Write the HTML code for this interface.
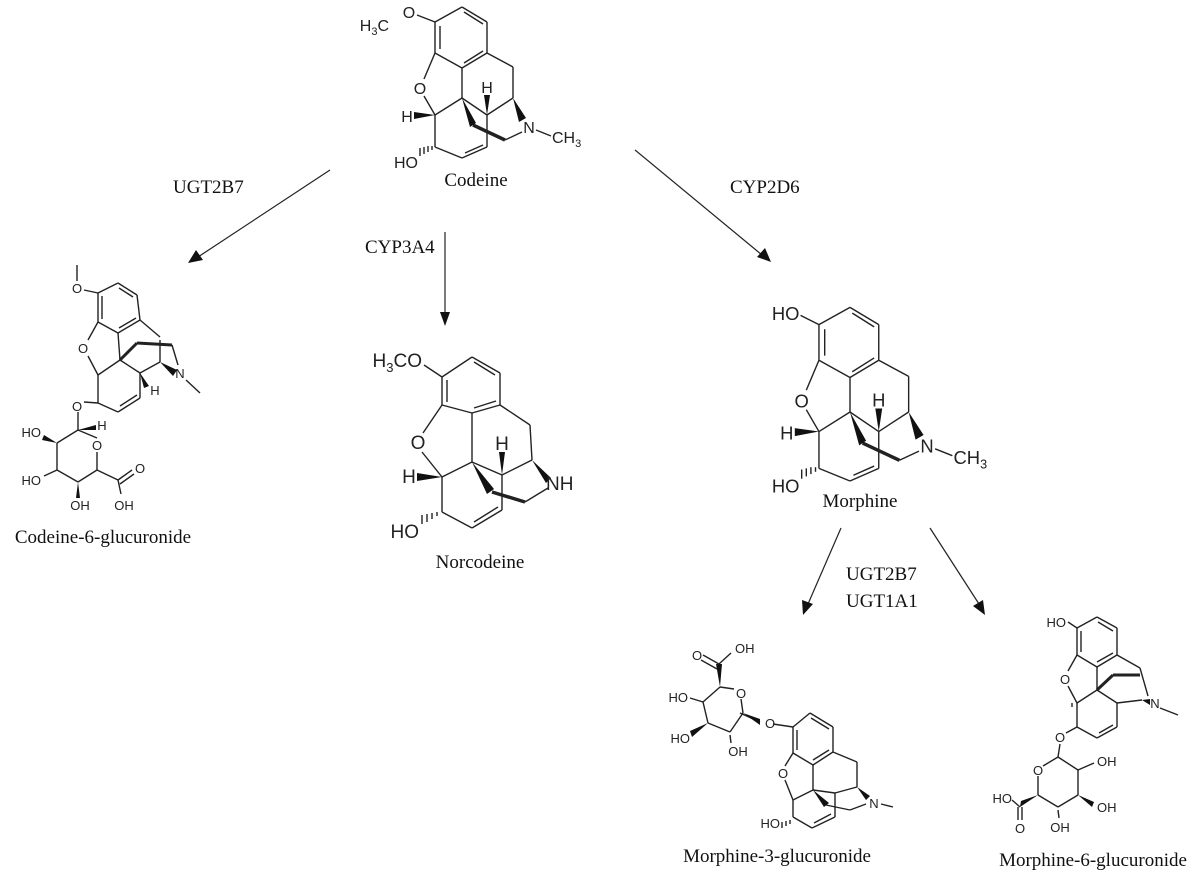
<!DOCTYPE html>
<html><head><meta charset="utf-8"><style>
html,body{margin:0;padding:0;background:#fff;}
svg{display:block}
.b line,.b polyline{stroke:#222;stroke-width:1.4;fill:none;vector-effect:non-scaling-stroke}
.b polygon{fill:#111;stroke:none}
.a{font-family:"Liberation Sans",sans-serif;fill:#222}
.cap{font-family:"Liberation Serif",serif;font-size:19px;fill:#111}
.ar line{stroke:#222;stroke-width:1.2}
.ar polygon{fill:#111}
</style></head><body>
<svg width="1200" height="872" viewBox="0 0 1200 872" xmlns="http://www.w3.org/2000/svg">

<!-- ================= CODEINE ================= -->
<g class="b" transform="translate(462,98)">
<line x1="-27" y1="-76" x2="0" y2="-91"/><line x1="0" y1="-91" x2="25" y2="-76"/>
<line x1="25" y1="-76" x2="25" y2="-45"/><line x1="25" y1="-45" x2="0" y2="-30"/>
<line x1="0" y1="-30" x2="-27" y2="-45"/><line x1="-27" y1="-45" x2="-27" y2="-76"/>
<line x1="-22" y1="-72" x2="-22" y2="-49"/><line x1="2" y1="-86" x2="21" y2="-74"/>
<line x1="21" y1="-47" x2="2" y2="-35"/>
<line x1="-27" y1="-76" x2="-45" y2="-83"/>
<line x1="-27" y1="-45" x2="-38" y2="-19"/><line x1="-38" y1="-2" x2="-27" y2="17"/>
<line x1="0" y1="-30" x2="0" y2="0"/><line x1="-27" y1="17" x2="0" y2="0"/>
<line x1="-27" y1="17" x2="-27" y2="49"/><line x1="-27" y1="49" x2="0" y2="60"/>
<line x1="0" y1="60" x2="25" y2="49"/><line x1="3" y1="55" x2="21" y2="47"/>
<line x1="25" y1="49" x2="25" y2="17"/><line x1="25" y1="17" x2="0" y2="0"/>
<line x1="25" y1="17" x2="51" y2="0"/><line x1="51" y1="0" x2="51" y2="-31"/>
<line x1="51" y1="-31" x2="25" y2="-45"/>
<line x1="60" y1="34" x2="43" y2="42"/><line x1="74" y1="32" x2="89" y2="38"/>
<line x1="43" y1="42" x2="11" y2="27" style="stroke-width:3.5"/>
<polygon points="-27,17 -48,14 -48,21"/>
<polygon points="25,17 22,-3 28,-3"/>
<polygon points="51,0 57,24 64,20"/>
<polygon points="0,0 8,29 14,25"/>
<line x1="-30" y1="48" x2="-30" y2="52"/><line x1="-34" y1="48" x2="-34" y2="54"/><line x1="-38" y1="49" x2="-38" y2="56"/><line x1="-42" y1="50" x2="-42" y2="58"/>
<text class="a" font-size="16" x="-73" y="-67" text-anchor="end">H<tspan font-size="11" dy="4">3</tspan><tspan dy="-4">C</tspan></text>
<text class="a" font-size="16" x="-53" y="-80" text-anchor="middle">O</text>
<text class="a" font-size="16" x="-42" y="-4" text-anchor="middle">O</text>
<text class="a" font-size="16" x="-55" y="24" text-anchor="middle">H</text>
<text class="a" font-size="16" x="-44" y="70" text-anchor="end">HO</text>
<text class="a" font-size="16" x="25" y="-5" text-anchor="middle">H</text>
<text class="a" font-size="16" x="67" y="35" text-anchor="middle">N</text>
<text class="a" font-size="16" x="90" y="45">CH<tspan font-size="11" dy="4">3</tspan></text>
</g>
<text class="cap" x="476" y="186" text-anchor="middle">Codeine</text>

<!-- ================= MORPHINE ================= -->
<g class="b" transform="translate(850,412) scale(1.15)">
<line x1="-27" y1="-76" x2="0" y2="-91"/><line x1="0" y1="-91" x2="25" y2="-76"/>
<line x1="25" y1="-76" x2="25" y2="-45"/><line x1="25" y1="-45" x2="0" y2="-30"/>
<line x1="0" y1="-30" x2="-27" y2="-45"/><line x1="-27" y1="-45" x2="-27" y2="-76"/>
<line x1="-22" y1="-72" x2="-22" y2="-49"/><line x1="2" y1="-86" x2="21" y2="-74"/>
<line x1="21" y1="-47" x2="2" y2="-35"/>
<line x1="-27" y1="-76" x2="-43" y2="-84"/>
<line x1="-27" y1="-45" x2="-38" y2="-19"/><line x1="-38" y1="-2" x2="-27" y2="17"/>
<line x1="0" y1="-30" x2="0" y2="0"/><line x1="-27" y1="17" x2="0" y2="0"/>
<line x1="-27" y1="17" x2="-27" y2="49"/><line x1="-27" y1="49" x2="0" y2="60"/>
<line x1="0" y1="60" x2="25" y2="49"/><line x1="3" y1="55" x2="21" y2="47"/>
<line x1="25" y1="49" x2="25" y2="17"/><line x1="25" y1="17" x2="0" y2="0"/>
<line x1="25" y1="17" x2="51" y2="0"/><line x1="51" y1="0" x2="51" y2="-31"/>
<line x1="51" y1="-31" x2="25" y2="-45"/>
<line x1="60" y1="34" x2="43" y2="42"/><line x1="74" y1="32" x2="89" y2="38"/>
<line x1="43" y1="42" x2="11" y2="27" style="stroke-width:3.5"/>
<polygon points="-27,17 -48,14 -48,21"/>
<polygon points="25,17 22,-3 28,-3"/>
<polygon points="51,0 57,24 64,20"/>
<polygon points="0,0 8,29 14,25"/>
<line x1="-30" y1="48" x2="-30" y2="52"/><line x1="-34" y1="48" x2="-34" y2="54"/><line x1="-38" y1="49" x2="-38" y2="56"/><line x1="-42" y1="50" x2="-42" y2="58"/>
<text class="a" font-size="16" x="-44" y="-80" text-anchor="end">HO</text>
<text class="a" font-size="16" x="-42" y="-4" text-anchor="middle">O</text>
<text class="a" font-size="16" x="-55" y="24" text-anchor="middle">H</text>
<text class="a" font-size="16" x="-44" y="70" text-anchor="end">HO</text>
<text class="a" font-size="16" x="25" y="-5" text-anchor="middle">H</text>
<text class="a" font-size="16" x="67" y="35" text-anchor="middle">N</text>
<text class="a" font-size="16" x="90" y="45">CH<tspan font-size="11" dy="4">3</tspan></text>
</g>
<text class="cap" x="860" y="507" text-anchor="middle">Morphine</text>

<!-- ================= NORCODEINE ================= -->
<g class="b">
<line x1="442" y1="377" x2="472" y2="357"/><line x1="472" y1="357" x2="500" y2="373"/>
<line x1="500" y1="373" x2="500" y2="405"/><line x1="500" y1="405" x2="472" y2="413"/>
<line x1="472" y1="413" x2="442" y2="405"/><line x1="442" y1="405" x2="442" y2="377"/>
<line x1="447" y1="380" x2="447" y2="402"/><line x1="474" y1="362" x2="495" y2="375"/>
<line x1="496" y1="401" x2="474" y2="408"/>
<line x1="442" y1="377" x2="424" y2="365"/>
<line x1="442" y1="405" x2="423" y2="433"/><line x1="422" y1="452" x2="442" y2="477"/>
<line x1="472" y1="413" x2="472" y2="462"/><line x1="442" y1="477" x2="472" y2="462"/>
<line x1="442" y1="477" x2="442" y2="512"/><line x1="442" y1="512" x2="472" y2="528"/>
<line x1="472" y1="528" x2="502" y2="510"/><line x1="474" y1="522" x2="498" y2="507"/>
<line x1="502" y1="510" x2="502" y2="475"/><line x1="502" y1="475" x2="472" y2="462"/>
<line x1="502" y1="475" x2="532" y2="460"/><line x1="532" y1="460" x2="530" y2="425"/>
<line x1="530" y1="425" x2="500" y2="405"/>
<line x1="548" y1="488" x2="525" y2="502"/>
<line x1="525" y1="502" x2="492" y2="492" style="stroke-width:3.5"/>
<polygon points="442,477 417,473 417,481"/>
<polygon points="502,475 499,452 505,452"/>
<polygon points="532,460 546,483 551,478"/>
<polygon points="472,462 487,494 494,489"/>
<line x1="437" y1="512" x2="437" y2="516"/><line x1="432" y1="513" x2="432" y2="519"/><line x1="427" y1="514" x2="427" y2="522"/><line x1="422" y1="515" x2="422" y2="524"/>
<text class="a" font-size="19" x="422" y="367" text-anchor="end">H<tspan font-size="13" dy="5">3</tspan><tspan dy="-5">CO</tspan></text>
<text class="a" font-size="19" x="418" y="449" text-anchor="middle">O</text>
<text class="a" font-size="19" x="409" y="483" text-anchor="middle">H</text>
<text class="a" font-size="19" x="419" y="538" text-anchor="end">HO</text>
<text class="a" font-size="19" x="502" y="450" text-anchor="middle">H</text>
<text class="a" font-size="19" x="546" y="490">NH</text>
</g>
<text class="cap" x="480" y="568" text-anchor="middle">Norcodeine</text>

<!-- ================= CODEINE-6-GLUCURONIDE ================= -->
<g class="b">
<line x1="77" y1="265" x2="77" y2="281"/>
<line x1="98" y1="293" x2="118" y2="283"/><line x1="118" y1="283" x2="137" y2="295"/>
<line x1="137" y1="295" x2="140" y2="320"/><line x1="140" y1="320" x2="118" y2="333"/>
<line x1="118" y1="333" x2="98" y2="322"/><line x1="98" y1="322" x2="98" y2="293"/>
<line x1="102" y1="296" x2="102" y2="319"/><line x1="119" y1="288" x2="133" y2="297"/>
<line x1="136" y1="318" x2="119" y2="328"/>
<line x1="98" y1="293" x2="84" y2="290"/>
<line x1="140" y1="320" x2="160" y2="337"/>
<line x1="98" y1="322" x2="88" y2="340"/><line x1="88" y1="356" x2="98" y2="375"/>
<line x1="118" y1="333" x2="120" y2="360"/><line x1="98" y1="375" x2="120" y2="360"/>
<line x1="98" y1="375" x2="98" y2="403"/><line x1="98" y1="403" x2="118" y2="412"/>
<line x1="118" y1="412" x2="140" y2="398"/><line x1="120" y1="406" x2="137" y2="395"/>
<line x1="140" y1="398" x2="140" y2="373"/><line x1="140" y1="373" x2="120" y2="360"/>
<line x1="140" y1="373" x2="160" y2="362"/><line x1="160" y1="362" x2="160" y2="340"/>
<line x1="120" y1="360" x2="137" y2="343" style="stroke-width:3"/>
<line x1="137" y1="343" x2="172" y2="345" style="stroke-width:3"/>
<line x1="172" y1="345" x2="178" y2="365"/>
<line x1="186" y1="380" x2="200" y2="393"/>
<polygon points="160,362 173,376 177,370"/>
<polygon points="140,373 144,388 149,386"/>
<line x1="98" y1="403" x2="84" y2="402"/>
<line x1="78" y1="412" x2="78" y2="430"/>
<line x1="78" y1="430" x2="97" y2="438"/><line x1="97" y1="452" x2="97" y2="470"/>
<line x1="97" y1="470" x2="78" y2="482"/><line x1="78" y1="482" x2="57" y2="470"/>
<line x1="57" y1="470" x2="57" y2="443"/><line x1="57" y1="443" x2="78" y2="430"/>
<polygon points="78,430 96,425 96,430"/>
<polygon points="57,443 44,435 42,440"/>
<line x1="57" y1="470" x2="44" y2="476"/>
<polygon points="78,482 80,498 76,498"/>
<line x1="97" y1="470" x2="118" y2="480"/>
<line x1="118" y1="480" x2="132" y2="470"/><line x1="120" y1="484" x2="134" y2="474"/>
<line x1="118" y1="480" x2="121" y2="494"/>
<text class="a" font-size="13" x="77" y="293" text-anchor="middle">O</text>
<text class="a" font-size="13" x="83" y="353" text-anchor="middle">O</text>
<text class="a" font-size="13" x="180" y="378" text-anchor="middle">N</text>
<text class="a" font-size="13" x="155" y="395" text-anchor="middle">H</text>
<text class="a" font-size="13" x="77" y="411" text-anchor="middle">O</text>
<text class="a" font-size="13" x="97" y="450" text-anchor="middle">O</text>
<text class="a" font-size="13" x="102" y="430" text-anchor="middle">H</text>
<text class="a" font-size="13" x="41" y="437" text-anchor="end">HO</text>
<text class="a" font-size="13" x="41" y="485" text-anchor="end">HO</text>
<text class="a" font-size="13" x="80" y="510" text-anchor="middle">OH</text>
<text class="a" font-size="13" x="124" y="510" text-anchor="middle">OH</text>
<text class="a" font-size="13" x="140" y="473" text-anchor="middle">O</text>
</g>
<text class="cap" x="103" y="543" text-anchor="middle">Codeine-6-glucuronide</text>

<!-- ================= M3G ================= -->
<g class="b">
<line x1="793" y1="727" x2="810" y2="713"/><line x1="810" y1="713" x2="833" y2="727"/>
<line x1="833" y1="727" x2="833" y2="752"/><line x1="833" y1="752" x2="813" y2="765"/>
<line x1="813" y1="765" x2="793" y2="753"/><line x1="793" y1="753" x2="793" y2="727"/>
<line x1="797" y1="730" x2="797" y2="750"/><line x1="811" y1="718" x2="829" y2="729"/>
<line x1="829" y1="750" x2="813" y2="760"/>
<line x1="793" y1="727" x2="773" y2="724"/>
<line x1="793" y1="753" x2="785" y2="766"/><line x1="785" y1="780" x2="793" y2="800"/>
<line x1="813" y1="765" x2="813" y2="790"/><line x1="793" y1="800" x2="813" y2="790"/>
<line x1="793" y1="800" x2="793" y2="817"/><line x1="793" y1="817" x2="812" y2="828"/>
<line x1="812" y1="828" x2="835" y2="817"/><line x1="814" y1="823" x2="831" y2="814"/>
<line x1="835" y1="817" x2="835" y2="793"/><line x1="835" y1="793" x2="813" y2="790"/>
<line x1="835" y1="793" x2="857" y2="787"/><line x1="857" y1="787" x2="857" y2="762"/>
<line x1="857" y1="762" x2="833" y2="752"/>
<line x1="866" y1="804" x2="850" y2="810"/><line x1="850" y1="810" x2="826" y2="805"/>
<line x1="881" y1="804" x2="893" y2="807"/>
<polygon points="857,787 866,800 870,796"/>
<polygon points="813,790 824,807 829,803"/>
<line x1="790" y1="820" x2="790" y2="824"/><line x1="786" y1="821" x2="786" y2="826"/><line x1="782" y1="822" x2="782" y2="828"/>
<line x1="740" y1="713" x2="760" y2="722"/>
<polygon points="743,713 760,719 760,725" />
<line x1="743" y1="713" x2="741" y2="699"/><line x1="734" y1="689" x2="720" y2="687"/>
<line x1="743" y1="713" x2="730" y2="732"/><line x1="730" y1="732" x2="708" y2="723"/>
<line x1="708" y1="723" x2="703" y2="702"/><line x1="703" y1="702" x2="720" y2="687"/>
<polygon points="720,687 716,664 722,664"/>
<line x1="719" y1="664" x2="703" y2="655"/><line x1="717" y1="669" x2="701" y2="660"/>
<line x1="719" y1="664" x2="731" y2="653"/>
<line x1="703" y1="702" x2="690" y2="698"/>
<polygon points="708,723 690,731 692,737"/>
<line x1="730" y1="735" x2="731" y2="743"/>
<text class="a" font-size="13" x="770" y="728" text-anchor="middle">O</text>
<text class="a" font-size="13" x="741" y="698" text-anchor="middle">O</text>
<text class="a" font-size="13" x="735" y="653">OH</text>
<text class="a" font-size="13" x="697" y="660" text-anchor="middle">O</text>
<text class="a" font-size="13" x="688" y="702" text-anchor="end">HO</text>
<text class="a" font-size="13" x="690" y="743" text-anchor="end">HO</text>
<text class="a" font-size="13" x="738" y="756" text-anchor="middle">OH</text>
<text class="a" font-size="13" x="783" y="778" text-anchor="middle">O</text>
<text class="a" font-size="13" x="780" y="828" text-anchor="end">HO</text>
<text class="a" font-size="13" x="874" y="808" text-anchor="middle">N</text>
</g>
<text class="cap" x="777" y="862" text-anchor="middle">Morphine-3-glucuronide</text>

<!-- ================= M6G ================= -->
<g class="b">
<line x1="1077" y1="628" x2="1097" y2="617"/><line x1="1097" y1="617" x2="1117" y2="628"/>
<line x1="1117" y1="628" x2="1117" y2="655"/><line x1="1117" y1="655" x2="1097" y2="667"/>
<line x1="1097" y1="667" x2="1077" y2="655"/><line x1="1077" y1="655" x2="1077" y2="628"/>
<line x1="1081" y1="631" x2="1081" y2="652"/><line x1="1098" y1="622" x2="1113" y2="631"/>
<line x1="1113" y1="653" x2="1097" y2="662"/>
<line x1="1077" y1="628" x2="1068" y2="622"/>
<line x1="1077" y1="655" x2="1068" y2="671"/><line x1="1068" y1="686" x2="1077" y2="703"/>
<line x1="1097" y1="667" x2="1097" y2="690"/><line x1="1077" y1="703" x2="1097" y2="690"/>
<line x1="1077" y1="703" x2="1077" y2="727"/><line x1="1077" y1="727" x2="1097" y2="738"/>
<line x1="1097" y1="738" x2="1117" y2="727"/><line x1="1099" y1="733" x2="1113" y2="725"/>
<line x1="1117" y1="727" x2="1117" y2="703"/><line x1="1117" y1="703" x2="1097" y2="690"/>
<line x1="1117" y1="703" x2="1142" y2="700"/><line x1="1140" y1="668" x2="1117" y2="655"/>
<line x1="1097" y1="690" x2="1113" y2="675" style="stroke-width:3"/>
<line x1="1113" y1="675" x2="1140" y2="675" style="stroke-width:3"/>
<line x1="1140" y1="668" x2="1148" y2="696"/>
<line x1="1160" y1="708" x2="1178" y2="715"/>
<polygon points="1142,700 1150,705 1150,699"/>
<line x1="1072" y1="703" x2="1072" y2="707"/>
<line x1="1077" y1="727" x2="1066" y2="733"/>
<line x1="1060" y1="744" x2="1058" y2="757"/>
<line x1="1058" y1="757" x2="1043" y2="766"/><line x1="1038" y1="776" x2="1038" y2="795"/>
<line x1="1038" y1="795" x2="1058" y2="807"/><line x1="1058" y1="807" x2="1078" y2="795"/>
<line x1="1078" y1="795" x2="1078" y2="770"/><line x1="1078" y1="770" x2="1058" y2="757"/>
<line x1="1078" y1="770" x2="1094" y2="763"/>
<polygon points="1078,795 1094,802 1092,807"/>
<line x1="1058" y1="810" x2="1059" y2="818"/>
<polygon points="1038,795 1020,807 1021,801"/>
<line x1="1020" y1="807" x2="1012" y2="800"/>
<line x1="1018" y1="807" x2="1018" y2="820"/><line x1="1022" y1="807" x2="1022" y2="820"/>
<text class="a" font-size="13" x="1066" y="627" text-anchor="end">HO</text>
<text class="a" font-size="13" x="1065" y="684" text-anchor="middle">O</text>
<text class="a" font-size="13" x="1155" y="708" text-anchor="middle">N</text>
<text class="a" font-size="13" x="1060" y="742" text-anchor="middle">O</text>
<text class="a" font-size="13" x="1038" y="775" text-anchor="middle">O</text>
<text class="a" font-size="13" x="1097" y="766">OH</text>
<text class="a" font-size="13" x="1097" y="812">OH</text>
<text class="a" font-size="13" x="1060" y="832" text-anchor="middle">OH</text>
<text class="a" font-size="13" x="1012" y="803" text-anchor="end">HO</text>
<text class="a" font-size="13" x="1020" y="833" text-anchor="middle">O</text>
</g>
<text class="cap" x="1093" y="866" text-anchor="middle">Morphine-6-glucuronide</text>

<!-- ================= ARROWS ================= -->
<g class="ar">
<line x1="330" y1="170" x2="198" y2="257"/>
<polygon points="188,263 196,250 203,260"/>
<line x1="445" y1="232" x2="445" y2="313"/>
<polygon points="445,326 440,312 450,312"/>
<line x1="635" y1="150" x2="762" y2="255"/>
<polygon points="771,262 757,257 765,248"/>
<line x1="841" y1="528" x2="808" y2="604"/>
<polygon points="803,615 802,600 813,604"/>
<line x1="930" y1="528" x2="979" y2="604"/>
<polygon points="985,615 973,606 983,600"/>
</g>
<text class="cap" x="173" y="193">UGT2B7</text>
<text class="cap" x="365" y="253">CYP3A4</text>
<text class="cap" x="730" y="193">CYP2D6</text>
<text class="cap" x="846" y="580">UGT2B7</text>
<text class="cap" x="846" y="607">UGT1A1</text>
</svg>
</body></html>
